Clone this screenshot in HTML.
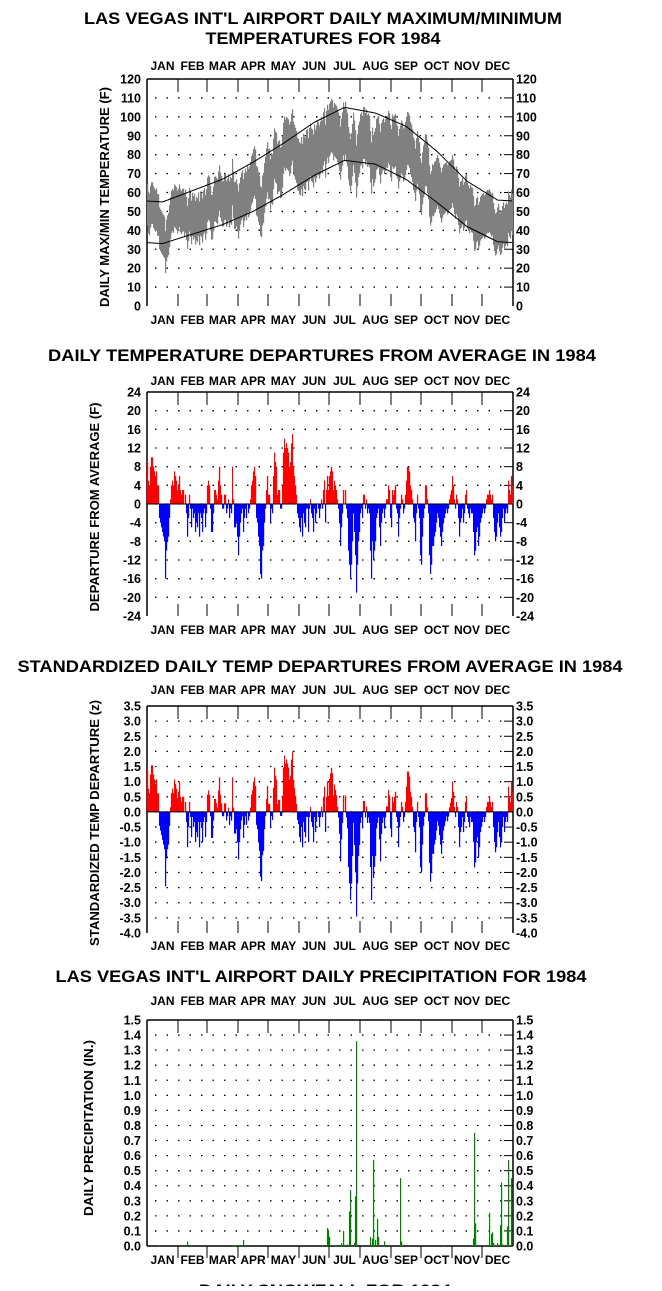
<!DOCTYPE html>
<html><head><meta charset="utf-8"><style>
body{margin:0;background:#fff;}
svg text{font-family:"Liberation Sans",Arial,sans-serif;font-weight:bold;fill:#000;}
</style></head><body>
<svg id="c" width="662" height="1286" viewBox="0 0 662 1286" xmlns="http://www.w3.org/2000/svg">
<text x="323" y="24" font-size="17" text-anchor="middle" textLength="478" lengthAdjust="spacingAndGlyphs">LAS VEGAS INT'L AIRPORT DAILY MAXIMUM/MINIMUM</text>
<text x="323" y="44" font-size="17" text-anchor="middle" textLength="235" lengthAdjust="spacingAndGlyphs">TEMPERATURES FOR 1984</text>
<text x="322" y="361" font-size="17" text-anchor="middle" textLength="548" lengthAdjust="spacingAndGlyphs">DAILY TEMPERATURE DEPARTURES FROM AVERAGE IN 1984</text>
<text x="320" y="672" font-size="17" text-anchor="middle" textLength="605" lengthAdjust="spacingAndGlyphs">STANDARDIZED DAILY TEMP DEPARTURES FROM AVERAGE IN 1984</text>
<text x="321" y="982" font-size="17" text-anchor="middle" textLength="531" lengthAdjust="spacingAndGlyphs">LAS VEGAS INT'L AIRPORT DAILY PRECIPITATION FOR 1984</text>
<text x="325" y="1296" font-size="17" text-anchor="middle" textLength="252" lengthAdjust="spacingAndGlyphs">DAILY SNOWFALL FOR 1984</text>
<text transform="translate(109,197) rotate(-90)" font-size="12.5" text-anchor="middle" textLength="220" lengthAdjust="spacingAndGlyphs">DAILY MAX/MIN TEMPERATURE (F)</text>
<text transform="translate(99,507) rotate(-90)" font-size="12.5" text-anchor="middle" textLength="209" lengthAdjust="spacingAndGlyphs">DEPARTURE FROM AVERAGE (F)</text>
<text transform="translate(99,823) rotate(-90)" font-size="12.5" text-anchor="middle" textLength="246" lengthAdjust="spacingAndGlyphs">STANDARDIZED TEMP DEPARTURE (z)</text>
<text transform="translate(93,1128) rotate(-90)" font-size="12.5" text-anchor="middle" textLength="176" lengthAdjust="spacingAndGlyphs">DAILY PRECIPITATION (IN.)</text>
</svg>
<script>
const months=["JAN","FEB","MAR","APR","MAY","JUN","JUL","AUG","SEP","OCT","NOV","DEC"];
const monthStarts=[0,31,60,91,121,152,182,213,244,274,305,335,366];
const normalMax=[55,61,67,76,86,97,105,102,95,82,66,56];
const normalMin=[33,38,43,50,59,69,77,75,67,55,42,34];
const monthSD=[6.5,6,7,7,7.5,6,5.5,5.5,6,6.5,6,6];
const departures=[9,5,4,8,10,10,8,7,6,7,4,4,-3,-4,-5,-6,-7,-8,-16,-10,-8,-7,-3,1,4,5,4,7,6,5,3,4,6,3,2,3,3,0,2,-2,-7,-3,2,
-1,-5,-1,-3,-2,-6,-4,-5,-2,-7,-2,-3,-6,-2,-1,-5,-2,4,5,4,-1,-6,-6,-2,3,3,2,1,5,8,4,2,
-1,-1,2,2,-2,-1,1,-3,-1,-2,8,1,-5,-5,-4,-7,-11,-7,-4,-2,-1,-6,-3,-1,-3,0,-2,-1,1,4,5,7,8,6,-3,-4,-7,
-9,-15,-16,-10,-9,-4,-1,3,6,2,2,-4,-1,-2,6,11,9,8,2,3,3,-1,-1,4,11,14,12,13,12,11,8,9,13,15,8,6,4,2,
-2,-3,-5,-6,-3,-7,-2,-4,-5,-1,-1,-6,-1,1,-2,-3,-6,-1,-4,-2,0,-1,-3,-1,1,-1,3,5,-4,3,6,
3,6,7,8,7,3,5,4,3,1,-1,-4,-9,-5,-2,3,0,3,-1,-3,-10,-13,-16,-13,-8,-2,-6,-11,-19,-13,-8,-6,-2,-1,-3,
2,2,-1,1,-2,-1,-2,-10,-16,-8,-12,-10,-8,-3,-2,-1,-5,-9,-4,-2,-1,-3,-1,1,1,4,3,-3,-5,3,2,3,4,-1,-2,
-7,-3,-1,2,1,-2,-1,2,5,8,8,7,4,3,1,-3,-4,-8,-2,2,-1,-3,-11,-13,-7,-3,-1,4,4,1,
-2,-11,-15,-13,-9,-9,-7,-6,-4,-2,-3,-5,-7,-9,-6,-4,-3,-2,-1,-2,-1,1,2,3,6,4,1,-1,2,1,
-3,-7,-4,-3,-1,-4,-2,2,3,-1,-2,-3,-1,-2,-2,-6,-11,-10,-6,-5,-9,-7,-4,-3,-2,-1,-2,-1,1,
2,2,3,2,1,2,-3,-6,-8,-7,-4,-2,-5,-7,-6,-3,-1,-4,-2,-1,-2,5,3,2,6,4];
const precipDays=[12,40,44,86,88,91,96,175,180,181,182,188,194,196,200,202,203,207,208,209,223,225,226,228,230,231,237,253,254,297,326,327,328,337,342,344,345,346,350,353,354,355,360,361,364];
const precipVals=[0.005,0.03,0.005,0.005,0.005,0.005,0.04,0.005,0.12,0.1,0.06,0.005,0.02,0.1,0.01,0.23,0.37,0.02,0.33,1.36,0.06,0.05,0.57,0.04,0.18,0.06,0.03,0.45,0.03,0.005,0.05,0.75,0.15,0.005,0.22,0.08,0.09,0.02,0.02,0.14,0.42,0.01,0.13,0.57,0.45];

const svg=document.getElementById('c');
const NS="http://www.w3.org/2000/svg";
const X0=147,X1=513;
function el(tag,attrs,parent){const e=document.createElementNS(NS,tag);for(const k in attrs)e.setAttribute(k,attrs[k]);(parent||svg).appendChild(e);return e;}
function xDay(d){return X0+d;}
function monthOf(d){for(let m=0;m<12;m++)if(d<monthStarts[m+1])return m;return 11;}
function normAt(arr,d){
  const mids=monthStarts.slice(0,12).map((s,i)=>(s+monthStarts[i+1])/2);
  if(d<=mids[0]){const a=arr[11],b=arr[0],t=(d+366-mids[11])/(mids[0]+366-mids[11]);return a+(b-a)*t;}
  if(d>=mids[11]){const a=arr[11],b=arr[0],t=(d-mids[11])/(mids[0]+366-mids[11]);return a+(b-a)*t;}
  for(let i=0;i<11;i++)if(d>=mids[i]&&d<=mids[i+1]){const t=(d-mids[i])/(mids[i+1]-mids[i]);return arr[i]+(arr[i+1]-arr[i])*t;}
}
function panel(name,top,bot,vmin,vmax,step,dec,ticksBelow,labTop,labBot){
  const y=v=>bot-(v-vmin)/(vmax-vmin)*(bot-top);
  const g=el('g',{});
  
  
  const n=Math.round((vmax-vmin)/step);
  for(let i=0;i<=n;i++){
    const v=vmin+i*step,yy=y(v);
    const s=(Math.abs(v)<1e-9?0:v).toFixed(dec);
    const t1=el('text',{x:141,y:yy+4.5,'font-size':12.5,'text-anchor':'end'},g);t1.textContent=s;
    
    
    const t2=el('text',{x:516,y:yy+4.5,'font-size':12.5},g);t2.textContent=s;
    
    
    if(i>0&&i<n){
      const gl=el('line',{x1:X0+8,x2:X1-6,y1:yy,y2:yy,stroke:'#000','stroke-width':1.3,'stroke-dasharray':'1.5,10'},g);
      
      
      el('line',{x1:X1-9,x2:X1,y1:yy,y2:yy,stroke:'#000','stroke-width':1},g);
    }
  }
  el('line',{x1:X0,x2:X0,y1:top,y2:bot,stroke:'#000','stroke-width':1.5},g);
  el('line',{x1:X1,x2:X1,y1:top,y2:bot,stroke:'#000','stroke-width':1.5},g);
  el('line',{x1:X0,x2:X1,y1:top,y2:top,stroke:'#000','stroke-width':1.5},g);
  for(let m=1;m<12;m++){
    const x=xDay(monthStarts[m]);
    el('line',{x1:x,x2:x,y1:top,y2:top+13,stroke:'#000','stroke-width':1},g);
    if(ticksBelow) el('line',{x1:x,x2:x,y1:bot,y2:bot+12,stroke:'#000','stroke-width':1},g);
    else el('line',{x1:x,x2:x,y1:bot-12,y2:bot,stroke:'#000','stroke-width':1},g);
  }
  for(let m=0;m<12;m++){
    const xm=xDay((monthStarts[m]+monthStarts[m+1])/2);
    const a=el('text',{x:xm,y:labTop,'font-size':12,'text-anchor':'middle'},g);a.textContent=months[m];
    
    
    const b=el('text',{x:xm,y:labBot,'font-size':12,'text-anchor':'middle'},g);b.textContent=months[m];
    
    
  }
  return y;
}
const y1=panel('temperature',79,306,0,120,10,0,false,70,324);
const g1=el('g',{});


for(let d=0;d<departures.length;d++){
  const hi=normAt(normalMax,d)+departures[d],lo=normAt(normalMin,d)+departures[d];
  const r=el('rect',{x:xDay(d),y:y1(hi),width:1.2,height:y1(lo)-y1(hi),fill:'#808080'},g1);
  
  
}
let pMax='',pMin='';
for(let d=0;d<366;d++){pMax+=(d?'L':'M')+xDay(d)+','+y1(normAt(normalMax,d)).toFixed(1);pMin+=(d?'L':'M')+xDay(d)+','+y1(normAt(normalMin,d)).toFixed(1);}
const l1=el('path',{d:pMax,fill:'none',stroke:'#000','stroke-width':1});


const l2=el('path',{d:pMin,fill:'none',stroke:'#000','stroke-width':1});


const y2=panel('departure',392,616,-24,24,4,0,false,385,634);
const g2=el('g',{});


for(let d=0;d<departures.length;d++){
  const v=departures[d];if(!v)continue;
  const a=y2(Math.max(v,0)),b=y2(Math.min(v,0));
  const r=el('rect',{x:xDay(d),y:a,width:1.2,height:b-a,fill:v>0?'#ff0000':'#0000ff'},g2);
  
  
}
el('line',{x1:X0,x2:X1,y1:y2(0),y2:y2(0),stroke:'#000','stroke-width':1});
const y3=panel('standardized',706,933,-4,3.5,0.5,1,false,694,950);
const g3=el('g',{});


for(let d=0;d<departures.length;d++){
  const v=departures[d]/monthSD[monthOf(d)];if(!v)continue;
  const a=y3(Math.max(v,0)),b=y3(Math.min(v,0));
  const r=el('rect',{x:xDay(d),y:a,width:1.2,height:b-a,fill:v>0?'#ff0000':'#0000ff'},g3);
  
  
}
el('line',{x1:X0,x2:X1,y1:y3(0),y2:y3(0),stroke:'#000','stroke-width':1});
const y4=panel('precipitation',1020,1246,0,1.5,0.1,1,true,1005,1264);
el('line',{x1:X0,x2:X1,y1:1246,y2:1246,stroke:'#000','stroke-width':1.5});
const g4=el('g',{});


for(let i=0;i<precipDays.length;i++){
  const a=y4(precipVals[i]);
  const r=el('rect',{x:xDay(precipDays[i]),y:a,width:1.2,height:Math.max(1,1246-a),fill:'#008000'},g4);
  
  
}
</script>
</body></html>
